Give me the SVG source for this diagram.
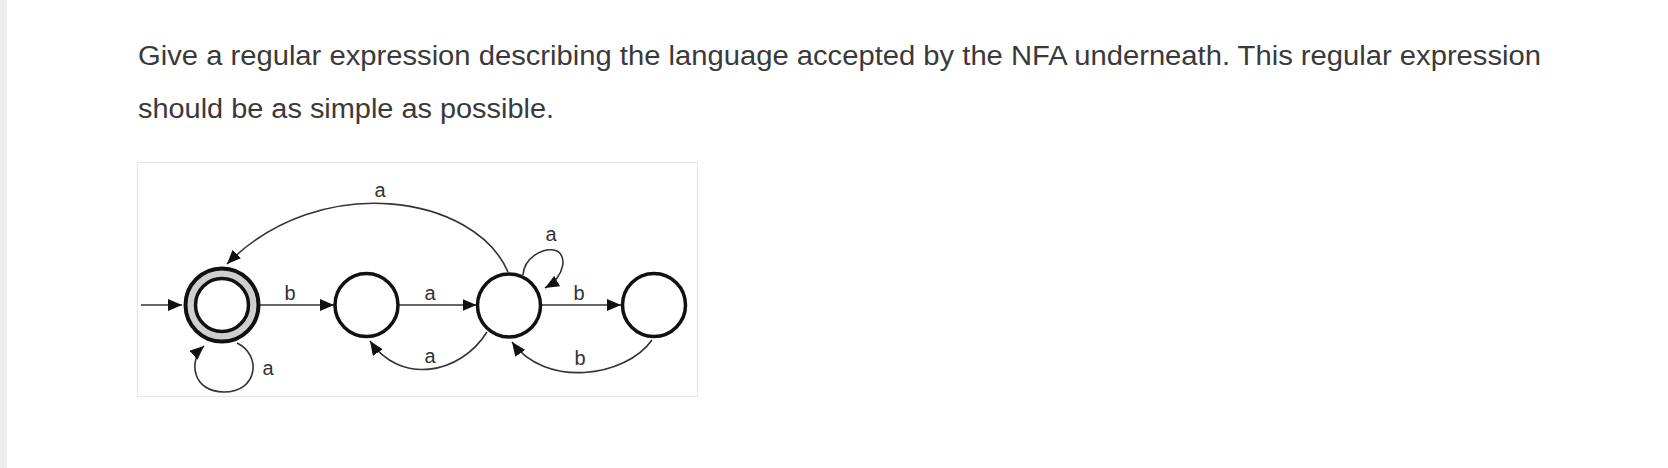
<svg xmlns="http://www.w3.org/2000/svg" width="1668" height="468" viewBox="0 0 1668 468">
<style>
.q{font-family:"Liberation Sans",Arial,sans-serif;font-size:27px;fill:#3a3a3a}
.lbl{font-family:"Liberation Sans",Arial,sans-serif;font-size:20px;fill:#333;text-anchor:middle}
.st{fill:#fff;stroke:#111;stroke-width:3.5}
.edge{fill:none;stroke:#333;stroke-width:1.6}
</style>
<defs>
<marker id="ah" markerUnits="userSpaceOnUse" markerWidth="16" markerHeight="12" refX="14" refY="6" orient="auto">
<path d="M0,0 L14,6 L0,12 Z" fill="#111"/>
</marker>
</defs>
<rect width="1668" height="468" fill="#fff"/>
<rect x="0" y="0" width="7" height="468" fill="#efefef"/>
<text class="q" x="138" y="65" textLength="1403" lengthAdjust="spacingAndGlyphs">Give a regular expression describing the language accepted by the NFA underneath. This regular expression</text>
<text class="q" x="138" y="117.5" textLength="416" lengthAdjust="spacingAndGlyphs">should be as simple as possible.</text>
<rect x="137.5" y="162.5" width="560" height="234" fill="#fff" stroke="#e6e6e6" stroke-width="1"/>
<g id="connectors">
<line class="edge" x1="141" y1="305" x2="182" y2="305" marker-end="url(#ah)"/>
<line class="edge" x1="260" y1="305" x2="334" y2="305" marker-end="url(#ah)"/>
<line class="edge" x1="399" y1="305" x2="476.5" y2="305" marker-end="url(#ah)"/>
<line class="edge" x1="541.5" y1="305" x2="621" y2="305" marker-end="url(#ah)"/>
<path class="edge" d="M508,272 C475,195 320,170 227,264" marker-end="url(#ah)"/>
<path class="edge" d="M487,332 C460,375 400,385 370,341" marker-end="url(#ah)"/>
<path class="edge" d="M652,340 C625,378 545,388 512,342" marker-end="url(#ah)"/>
<path class="edge" d="M237,343 C262,355 258,392 224,392 C192,392 188,360 204,346" marker-end="url(#ah)"/>
<path class="edge" d="M523,275 C524,258 542,248 554,250 C568,253 566,276 545,288" marker-end="url(#ah)"/>
<text class="lbl" x="380" y="197">a</text>
<text class="lbl" x="551" y="241">a</text>
<text class="lbl" x="290" y="300">b</text>
<text class="lbl" x="430" y="300">a</text>
<text class="lbl" x="579" y="300">b</text>
<text class="lbl" x="268" y="375">a</text>
<text class="lbl" x="430" y="363">a</text>
<text class="lbl" x="580" y="365">b</text>
</g>
<g id="q0">
<circle cx="222" cy="305" r="36.5" fill="#cfcfcf" stroke="#111" stroke-width="4"/>
<circle cx="222" cy="305" r="26.5" fill="#fff" stroke="#111" stroke-width="3.5"/>
</g>
<g id="q1"><circle class="st" cx="366.5" cy="305" r="31.5"/></g>
<g id="q2"><circle class="st" cx="509" cy="305.5" r="31.5"/></g>
<g id="q3"><circle class="st" cx="654" cy="305" r="31.5"/></g>
</svg>
